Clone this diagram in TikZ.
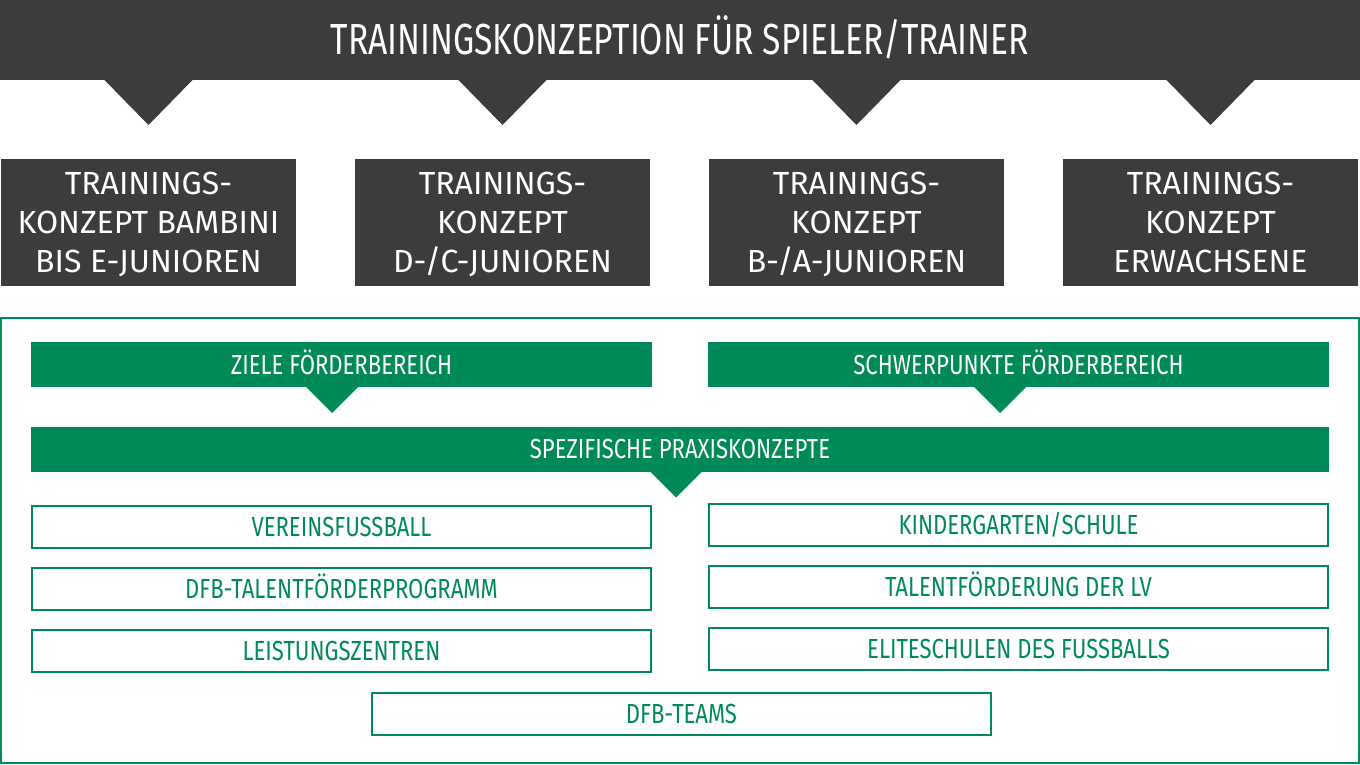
\documentclass[tikz,border=0pt]{standalone}
\usepackage{fontspec}
\setmainfont{Fira Sans}
\newfontfamily\titlefont[FakeStretch=0.772]{Fira Sans}
\newfontfamily\grfont[FakeStretch=0.80]{Fira Sans}
\newfontfamily\boxfont[FakeStretch=1.0]{Fira Sans}
\usetikzlibrary{calc}
\definecolor{dgray}{HTML}{3C3C3B}
\definecolor{dfbgreen}{HTML}{008A57}
\newcommand{\toppad}{\rule{0pt}{26pt}}
\begin{document}
\begin{tikzpicture}[x=1pt,y=-1pt,
  darkbar/.style={fill=dgray, draw=none, inner sep=0pt, outer sep=0pt, text=white},
  agebox/.style={darkbar, minimum width=295pt, minimum height=127pt, align=center,
    font=\boxfont\fontsize{32}{39}\selectfont},
  greenbar/.style={fill=dfbgreen, draw=none, inner sep=0pt, outer sep=0pt, text=white,
    minimum height=45pt, font=\grfont\fontsize{27.6}{30}\selectfont,
    text height=19pt, text depth=0pt},
  wbox/.style={draw=dfbgreen, line width=2pt, fill=white, inner sep=0pt, outer sep=0pt,
    text=dfbgreen, minimum width=619pt, minimum height=42pt,
    font=\grfont\fontsize{27.6}{30}\selectfont, text height=19pt, text depth=0pt},
  dtri/.style={fill=dgray},
  gtri/.style={fill=dfbgreen},
]
\useasboundingbox (0,0) rectangle (1360,765);
\fill[white] (0,0) rectangle (1360,765);

% title bar
\node[darkbar, minimum width=1360pt, minimum height=80pt,
  font=\titlefont\fontsize{43.5}{48}\selectfont, text height=30pt, text depth=0pt]
  (title) at (680,40) {TRAININGSKONZEPTION FÜR SPIELER/TRAINER};

% age boxes
\node[agebox] (b1) at (148.5,222.5) {\toppad TRAININGS-\\KONZEPT BAMBINI\\BIS E-JUNIOREN\vphantom{J}};
\node[agebox] (b2) at (502.5,222.5) {\toppad TRAININGS-\\KONZEPT\\D-/C-JUNIOREN\vphantom{J}};
\node[agebox] (b3) at (856.5,222.5) {\toppad TRAININGS-\\KONZEPT\\B-/A-JUNIOREN\vphantom{J}};
\node[agebox] (b4) at (1210.5,222.5) {\toppad TRAININGS-\\KONZEPT\\ERWACHSENE\vphantom{J}};

% triangles from title
\foreach \b in {b1,b2,b3,b4}{
  \fill[dtri] ($(title.south -| \b.north)+(-45,-1)$) -- ($(title.south -| \b.north)+(45,-1)$)
    -- ($(title.south -| \b.north)+(0,45)$) -- cycle;
}

% green frame
\node[draw=dfbgreen, line width=2pt, inner sep=0pt, outer sep=0pt,
  minimum width=1358pt, minimum height=445pt] (frame) at (680,540.5) {};

% green bars
\node[greenbar, minimum width=621pt] (ziele) at (341.5,364.5) {ZIELE FÖRDERBEREICH};
\node[greenbar, minimum width=621pt] (schwer) at (1018.5,364.5) {SCHWERPUNKTE FÖRDERBEREICH};
\node[greenbar, minimum width=1298pt] (spez) at (680,449) {SPEZIFISCHE PRAXISKONZEPTE};

\fill[gtri] ($(ziele.south)+(-36.5,-1)$) -- ($(ziele.south)+(17.5,-1)$) -- ($(ziele.south)+(-9.5,26)$) -- cycle;
\fill[gtri] ($(schwer.south)+(-45.5,-1)$) -- ($(schwer.south)+(8.5,-1)$) -- ($(schwer.south)+(-18.5,26)$) -- cycle;
\fill[gtri] ($(spez.south)+(-31,-1)$) -- ($(spez.south)+(23,-1)$) -- ($(spez.south)+(-4,26)$) -- cycle;

% white boxes
\node[wbox] (l1) at (341.5,527) {VEREINSFUSSBALL};
\node[wbox] (l2) at (341.5,589) {DFB-TALENTFÖRDERPROGRAMM};
\node[wbox] (l3) at (341.5,651) {LEISTUNGSZENTREN};
\node[wbox] (r1) at (1018.5,525) {KINDERGARTEN/SCHULE};
\node[wbox] (r2) at (1018.5,587) {TALENTFÖRDERUNG DER LV};
\node[wbox] (r3) at (1018.5,649) {ELITESCHULEN DES FUSSBALLS};
\node[wbox] (dfb) at (681.5,713.5) {DFB-TEAMS};
\end{tikzpicture}
\end{document}
